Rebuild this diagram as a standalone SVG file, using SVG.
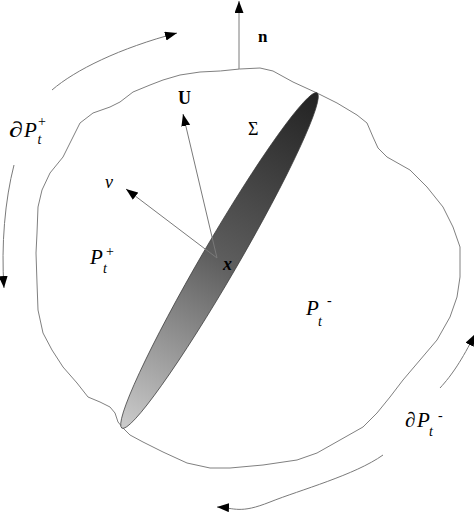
<svg xmlns="http://www.w3.org/2000/svg" width="474" height="512" viewBox="0 0 474 512">
<style>
.ln{fill:none;stroke:#808080;stroke-width:1;stroke-linejoin:round;stroke-linecap:round}
.ar{fill:none;stroke:#7a7a7a;stroke-width:1;marker-end:url(#ah)}
.t{font-family:"Liberation Serif","Times New Roman",serif;fill:#000}
.i{font-style:italic}
.b{font-weight:bold}
</style>
<defs>
<marker id="ah" markerUnits="userSpaceOnUse" markerWidth="14" markerHeight="10" refX="12" refY="4.5" orient="auto" viewBox="0 0 14 10">
<path d="M0,0 L12,4.5 L0,9 z" fill="#000"/>
</marker>
<linearGradient id="sg" gradientUnits="userSpaceOnUse" x1="194" y1="0" x2="-194" y2="0">
<stop offset="0" stop-color="#222222"/>
<stop offset="0.5" stop-color="#5e5e5e"/>
<stop offset="1" stop-color="#cccccc"/>
</linearGradient>
</defs>
<rect width="474" height="512" fill="#fff"/>
<g id="body">
<path class="ln" d="M240,69 L260,68 L273,71 L293,82 L317,93 L337,103 L357,115 L367,123 L373,137 L378,148 L387,157 L410,170 L427,187 L443,207 L453,227 L460,247 L460,277 L457,297 L450,317 L437,340 L420,360 L403,380 L390,397 L377,413 L363,427 L340,440 L317,453 L297,460 L263,465 L230,468 L210,468 L187,463 L163,452 L143,442 L130,435 L123,428 L118,422 L115,413 L110,407 L100,402 L88,397 L77,383 L63,367 L52,350 L43,333 L38,310 L37,283 L36,253 L37,233 L38,207 L42,190 L50,173 L63,157 L73,137 L80,123 L93,113 L110,107 L120,102 L133,92 L150,85 L163,80 L180,75 L200,72 L220,71 Z"/>
</g>
<g id="sigma">
<ellipse cx="0" cy="0" rx="194" ry="18" transform="translate(219.5,260.5) rotate(-59.8)" fill="url(#sg)" stroke="#3a3a3a" stroke-width="0.7"/>
</g>
<g id="connectors">
<line class="ar" x1="239" y1="69" x2="239" y2="1"/>
<line class="ar" x1="217" y1="258" x2="183" y2="114"/>
<line class="ar" x1="217" y1="258" x2="126" y2="189"/>
<path class="ar" d="M52,90 C75,70 120,48 177,33"/>
<path class="ar" d="M14,165 C5,200 1,245 4,288"/>
<path class="ar" d="M440,388 C452,375 462,360 475,334"/>
<path class="ar" d="M383,455 C355,475 300,490 270,502 S235,508 217,507"/>
</g>
<g id="labels">
<text class="t b" x="258" y="42" font-size="17">n</text>
<text class="t b" x="178" y="104" font-size="18">U</text>
<text class="t i" x="105" y="188" font-size="18">ν</text>
<text class="t b i" x="223" y="270" font-size="18">x</text>
<text class="t" x="248" y="135" font-size="18">Σ</text>
<text class="t i" x="90" y="264" font-size="21">P</text>
<text class="t" x="106" y="256" font-size="14">+</text>
<text class="t i" x="103" y="273" font-size="14">t</text>
<text class="t i" x="306" y="315" font-size="21">P</text>
<text class="t" x="327" y="305" font-size="14">-</text>
<text class="t i" x="318" y="326" font-size="14">t</text>
<text class="t i" x="9" y="137" font-size="22" textLength="14" lengthAdjust="spacingAndGlyphs">∂</text>
<text class="t i" x="24" y="137" font-size="21">P</text>
<text class="t" x="38" y="126" font-size="14">+</text>
<text class="t i" x="37.5" y="144" font-size="14">t</text>
<text class="t i" x="405" y="427" font-size="21">∂</text>
<text class="t i" x="417" y="427" font-size="21">P</text>
<text class="t" x="438" y="420" font-size="14">-</text>
<text class="t i" x="429" y="436" font-size="14">t</text>
</g>
</svg>
